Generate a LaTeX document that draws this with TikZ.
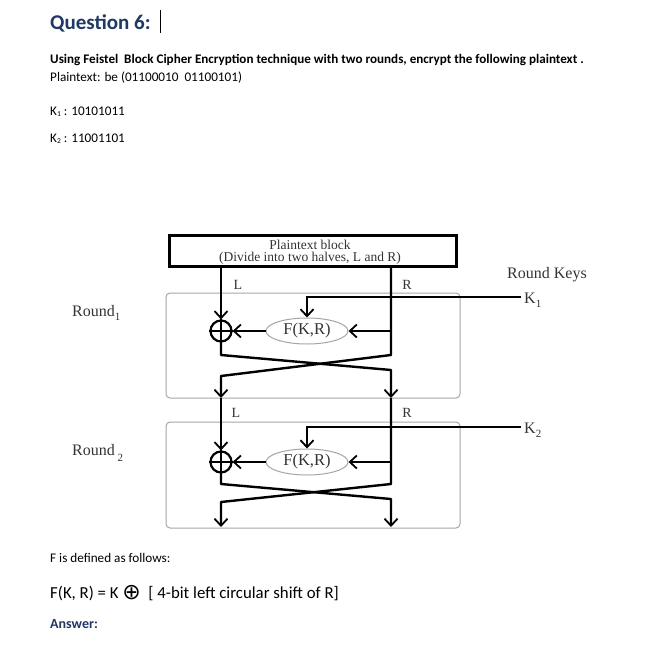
\documentclass[tikz,border=0pt]{standalone}
\usepackage{fontspec}
\setmainfont{Carlito}
\newfontfamily\dserif{Liberation Serif}
\newfontfamily\dejavu{DejaVu Sans}
\usetikzlibrary{arrows.meta,shapes.geometric}
\definecolor{navy}{HTML}{1F3864}
\definecolor{boxgray}{HTML}{A6A6A6}
\definecolor{dtext}{HTML}{333333}
\begin{document}
\begin{tikzpicture}[x=1pt,y=-1pt,
  thickln/.style={line width=2.4pt},
  arr/.style={-{Straight Barb[length=7pt,width=13pt,line width=1.8pt]}},
  roundbox/.style={draw=boxgray,line width=1pt,rounded corners=4pt,minimum width=294pt,minimum height=105pt,inner sep=0pt},
  xorc/.style={circle,draw,line width=2.2pt,minimum size=21pt,inner sep=0pt},
  fbox/.style={ellipse,draw=boxgray,line width=1pt,fill=white,minimum width=82pt,minimum height=26pt,inner sep=0pt,text=dtext,font=\dserif\fontsize{16.5}{16.5}\selectfont},
  dlabel/.style={font=\dserif\fontsize{14}{14}\selectfont,inner sep=0pt,text=dtext},
  body/.style={anchor=base west,inner sep=0pt,font=\fontsize{13.2}{15}\selectfont}]
\useasboundingbox[fill=white] (0,0) rectangle (669,645);
% header texts
\node[anchor=base west,inner sep=0pt,font=\bfseries\fontsize{21}{24}\selectfont,text=navy] (q) at (50,29) {Question 6:};
\coordinate (cur1) at (160,10);
\coordinate (cur2) at (160,33);
\draw[line width=0.8pt] (cur1) -- (cur2);
\node[body,font=\bfseries\fontsize{13.1}{15}\selectfont] (t1) at (50,63) {Using Feistel\ \ Block Cipher Encryption technique with two rounds, encrypt the following plaintext .};
\node[body] (t2) at (50,81) {Plaintext: be (01100010\ \ 01100101)};
\node[body] (t3) at (50,115) {K\raisebox{-1.5pt}{\fontsize{7.5}{7.5}\selectfont 1} : 10101011};
\node[body] (t4) at (50,142) {K\raisebox{-1.5pt}{\fontsize{7.5}{7.5}\selectfont 2} : 11001101};
% diagram
\node[roundbox] (r1) at (313,345.5) {};
\node[roundbox,minimum height=106pt] (r2) at (313,475) {};
\node[draw,line width=3pt,minimum width=287pt,minimum height=31pt,inner sep=0pt,fill=white] (pt) at (313,251) {};
\node[align=center,inner sep=0pt,text=dtext,font=\dserif\fontsize{13.5}{12}\selectfont] (ptt) at (310,252) {Plaintext block\\(Divide into two halves, L and R)};
\node[dlabel] (L1) at (238,285) {L};
\node[dlabel] (R1) at (407,285) {R};
\node[dlabel] (L2) at (236,413) {L};
\node[dlabel] (R2) at (407,413) {R};
\node[font=\dserif\fontsize{16}{16}\selectfont,inner sep=0pt,text=dtext] (rk) at (547,275) {Round Keys};
\node[anchor=west,font=\dserif\fontsize{16}{16}\selectfont,inner sep=0pt,text=dtext] (k1) at (524,300) {K\raisebox{-4pt}{\fontsize{11}{11}\selectfont 1}};
\node[anchor=west,font=\dserif\fontsize{16}{16}\selectfont,inner sep=0pt,text=dtext] (k2) at (524,430) {K\raisebox{-4pt}{\fontsize{11}{11}\selectfont 2}};
\node[anchor=base west,font=\dserif\fontsize{16}{16}\selectfont,inner sep=0pt,text=dtext] (rd1) at (72,316) {Round\raisebox{-4pt}{\fontsize{11}{11}\selectfont 1}};
\node[anchor=base west,font=\dserif\fontsize{16}{16}\selectfont,inner sep=0pt,text=dtext] (rd2) at (72,455) {Round\,\raisebox{-6pt}{\fontsize{11}{11}\selectfont 2}};
% round 1
\node[xorc] (x1) at (221,331) {};
\draw[line width=2.4pt] (x1.north) -- (x1.south) (x1.west) -- (x1.east);
\node[fbox] (f1) at (307,331) {F(K,R)};
\coordinate (k1e) at (521,297);
\coordinate (rb1) at (391,331);
\coordinate (a1) at (221,355);
\coordinate (b1) at (391,370);
\coordinate (c1) at (391,355);
\coordinate (d1) at (221,376);
\coordinate (lo1) at (221,398);
\coordinate (ro1) at (391,398);
\draw[thickln,arr] (pt.south -| x1) -- (x1.north);
\draw[thickln,arr] (k1e) -| (f1.north);
\draw[thickln,arr] (rb1) -- (f1.east);
\draw[thickln,arr] (f1.west) -- (x1.east);
\draw[thickln,arr,line join=round] (x1.south) -- (a1) -- (b1) -- (ro1);
\draw[thickln,arr,line join=round] (pt.south -| rb1) -- (c1) -- (d1) -- (lo1);
% round 2
\node[xorc] (x2) at (221,462) {};
\draw[line width=2.4pt] (x2.north) -- (x2.south) (x2.west) -- (x2.east);
\node[fbox] (f2) at (307,462) {F(K,R)};
\coordinate (k2e) at (521,427);
\coordinate (rb2) at (391,462);
\coordinate (a2) at (221,484);
\coordinate (b2) at (391,499);
\coordinate (c2) at (391,484);
\coordinate (d2) at (221,502);
\coordinate (lo2) at (221,527);
\coordinate (ro2) at (391,527);
\draw[thickln,arr] (lo1) -- (x2.north);
\draw[thickln,arr] (k2e) -| (f2.north);
\draw[thickln,arr] (rb2) -- (f2.east);
\draw[thickln,arr] (f2.west) -- (x2.east);
\draw[thickln,arr,line join=round] (x2.south) -- (a2) -- (b2) -- (ro2);
\draw[thickln,arr,line join=round] (ro1) -- (c2) -- (d2) -- (lo2);
% footer texts
\node[body] (t5) at (50,562) {F is defined as follows:};
\node[body,font=\fontsize{16.8}{18}\selectfont] (t6) at (50,598) {F(K, R) = K {\dejavu\fontsize{22}{22}\selectfont\raisebox{-1pt}{⊕}}\ \ [ 4-bit left circular shift of R]};
\node[body,font=\bfseries\fontsize{14}{16}\selectfont,text=navy] (ans) at (50,628) {Answer:};
\end{tikzpicture}
\end{document}
